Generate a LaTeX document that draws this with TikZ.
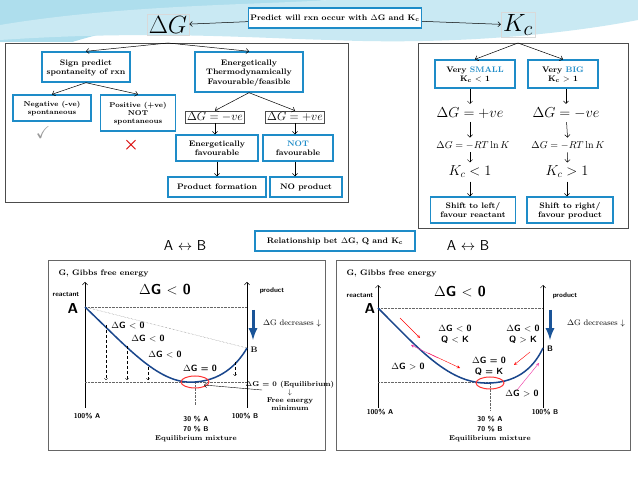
\documentclass[tikz,border=0pt]{standalone}
\usepackage{amsmath}
\usepackage{amssymb}
\usepackage{tikz}
\usetikzlibrary{calc,positioning,arrows,shapes,fit,backgrounds}
\definecolor{boxblue}{RGB}{30,140,200}
\definecolor{curveblue}{RGB}{25,70,140}
\definecolor{wave}{RGB}{120,200,225}
\tikzset{
  bx/.style={draw=boxblue,line width=1.4pt,fill=white,align=center,font=\footnotesize\bfseries,inner sep=2pt,text depth=0pt},
  gx/.style={draw=black!70,line width=0.6pt,fill=white,inner sep=1.5pt,font=\large},
  fr/.style={draw=black!70,line width=0.8pt},
  ar/.style={->,>=angle 90,line width=0.5pt},
  lb/.style={font=\sffamily\small\bfseries},
  ax/.style={font=\sffamily\scriptsize\bfseries},
}
\begin{document}
\begin{tikzpicture}[x=1pt,y=-1pt]
\useasboundingbox (0,0) rectangle (638,478);
\fill[white] (0,0) rectangle (638,478);
% top swoosh
\fill[wave!60] (0,0) -- (330,0) .. controls (200,10) and (80,30) .. (0,70) -- cycle;
\fill[wave!40] (330,0) -- (638,0) -- (638,20) .. controls (560,35) and (450,45) .. (330,40) .. controls (250,38) and (150,30) .. (0,40) -- (0,25) .. controls (120,5) and (250,5) .. (330,0);
\fill[white] (0,42) rectangle (638,478);

% heads
\node[draw=black!15,font=\fontsize{30}{30}\selectfont,inner sep=2pt] (dg) at (168,25) {$\Delta G$};
\node[draw=black!15,font=\fontsize{30}{30}\selectfont,inner sep=2pt] (kc) at (518,25) {$K_c$};
\node[bx,minimum width=160,minimum height=20] (q) at (335,18) {Predict will rxn occur with $\Delta$G and K$_\text{c}$};
\draw[ar] (q) -- (dg);
\draw[ar] (q) -- (kc);

% left frame
\draw[fr] (5,43) rectangle (348,202);
\coordinate (lt) at (168,43);
\node[bx,minimum width=88,minimum height=30] (sign) at (86,67) {Sign predict\\spontaneity of rxn};
\node[bx,minimum width=108,minimum height=40] (ener) at (249,72) {Energetically\\Thermodynamically\\Favourable/feasible};
\draw[ar] (lt) -- (sign.north);
\draw[ar] (lt) -- (ener.north);
\node[bx,font=\scriptsize\bfseries,minimum width=78,minimum height=26] (neg) at (52,108) {Negative (-ve)\\spontaneous};
\node[bx,font=\scriptsize\bfseries,minimum width=75,minimum height=36] (pos) at (138,113) {Positive (+ve)\\NOT\\spontaneous};
\draw[ar] (sign.south) -- (neg.north);
\draw[ar] (sign.south) -- (pos.north);
\node[text=black!40,font=\LARGE] (chk) at (43,133) {$\checkmark$};
\node[text=red!85!black,font=\LARGE\bfseries] (crs) at (131,145) {$\boldsymbol\times$};
\node[gx] (gm) at (215,117) {$\Delta G=-ve$};
\node[gx] (gp) at (295,117) {$\Delta G=+ve$};
\draw[ar] (ener.south) -- (gm.north);
\draw[ar] (ener.south) -- (gp.north);
\node[bx,minimum width=82,minimum height=26] (ef) at (217,148) {Energetically\\favourable};
\node[bx,minimum width=70,minimum height=26] (nf) at (298,148) {\textcolor{boxblue}{NOT}\\favourable};
\draw[ar] (gm) -- (gm |- ef.north);
\draw[ar] (gp) -- (gp |- nf.north);
\node[bx,minimum width=98,minimum height=20] (pf) at (217,187) {Product formation};
\node[bx,minimum width=72,minimum height=20] (np) at (306,187) {NO product};
\draw[ar] (ef) -- (pf);
\draw[ar] (gp |- nf.south) -- (gp |- np.north);

% right frame
\draw[fr] (418,43) rectangle (628,228);
\coordinate (rt) at (518,43);
\node[bx,minimum width=80,minimum height=28] (sm) at (475,74) {Very \textcolor{boxblue}{SMALL}\\K$_\text{c}$ $<$ 1};
\node[bx,minimum width=70,minimum height=28] (bg) at (563,74) {Very \textcolor{boxblue}{BIG}\\K$_\text{c}$ $>$ 1};
\draw[ar] (rt) -- (sm.north);
\draw[ar] (rt) -- (bg.north);
\node[font=\Large] (s1) at (470,113) {$\Delta G=+ve$};
\node[font=\Large] (b1) at (566,113) {$\Delta G=-ve$};
\node (s2) at (473,145) {$\Delta G=-RT\ln K$};
\node (b2) at (568,145) {$\Delta G=-RT\ln K$};
\node[font=\Large] (s3) at (470,172) {$K_c<1$};
\node[font=\Large] (b3) at (567,172) {$K_c>1$};
\node[bx,minimum width=85,minimum height=26] (sl) at (473,210) {Shift to left/\\favour reactant};
\node[bx,minimum width=86,minimum height=26] (sr) at (570,210) {Shift to right/\\favour product};
\draw[ar] (sm.south -| s1) -- (s1);
\draw[ar] (s1) -- (s2.north -| s1);
\draw[ar] (s2.south -| s1) -- (s3);
\draw[ar] (s3) -- (sl.north -| s3);
\draw[ar] (bg.south -| b1) -- (b1);
\draw[ar] (b1) -- (b2);
\draw[ar] (b2) -- (b3);
\draw[ar] (b3) -- (sr.north -| b3);

\node[font=\sffamily\Large] (ab1) at (185,246) {A $\leftrightarrow$ B};
\node[font=\sffamily\Large] (ab2) at (468,246) {A $\leftrightarrow$ B};
\node[bx,minimum width=160,minimum height=20] (rel) at (335,241) {Relationship bet $\Delta$G, Q and K$_\text{c}$};

% ---- bottom left graph
\draw[fr,black!60] (48,260) rectangle (325,450);
\node[font=\footnotesize\bfseries,anchor=west] (gl) at (55,274) {G, Gibbs free energy};
\coordinate (la) at (85,307);
\coordinate (lb) at (247,348);
\coordinate (lm) at (195,382);
\draw[ar] (85,408) -- (85,282);
\draw[ar] (247,408) -- (247,282);
\node[ax] at (66,294) {reactant};
\node[ax] at (272,291) {product};
\node[font=\sffamily\Large\bfseries] at (165,290) {$\Delta$G $<$ 0};
\draw[densely dotted,black!60] (la) -- (247,307);
\draw[densely dotted,black!60] (85,382) -- (247,382);
\draw[densely dotted,black!60] (la) -- (lb);
\draw[densely dotted,black!60] (lm) -- (195,405);
\draw[curveblue,line width=1.5pt] (la) .. controls (130,350) and (160,385) .. (lm) .. controls (225,380) and (240,360) .. (lb);
\foreach \x in {106,127,148}{ \draw[->,densely dashed] (\x,325+\x-106) -- (\x,380); }
\draw[->,densely dashed] (235,362) -- (235,376);
\node[font=\sffamily\Large\bfseries] (A1) at (73,309) {A};
\node[font=\footnotesize\bfseries] (B1) at (254,350) {B};
\node[lb] at (128,326) {$\Delta$G $<$ 0};
\node[lb] at (148,339) {$\Delta$G $<$ 0};
\node[lb] at (165,355) {$\Delta$G $<$ 0};
\node[lb] at (200,368) {$\Delta$G = 0};
\draw[red!80,line width=1pt] (lm) ellipse (14 and 6);
\draw[->,>=latex,line width=3pt,curveblue!80!boxblue] (253,310) -- (253,340);
\node[font=\footnotesize] at (292,323) {$\Delta$G decreases $\downarrow$};
\node[font=\scriptsize\bfseries,align=center] (fe) at (290,396) {$\Delta$G = 0 (Equilibrium)\\$\downarrow$\\Free energy\\minimum};
\draw[->,>=angle 90] (262,390) -- (204,385);
\node[ax] at (87,416) {100\% A};
\node[ax] at (245,416) {100\% B};
\node[ax,align=center] at (196,424) {30 \% A\\[2pt]70 \% B};
\node[font=\scriptsize\bfseries] at (196,439) {Equilibrium mixture};

% ---- bottom right graph
\draw[fr,black!60] (336,260) rectangle (630,450);
\node[font=\footnotesize\bfseries,anchor=west] (gr) at (343,274) {G, Gibbs free energy};
\coordinate (ra) at (378,308);
\coordinate (rb) at (543,348);
\coordinate (rm) at (490,383);
\draw[ar] (378,408) -- (378,285);
\draw[ar] (543,408) -- (543,285);
\node[ax] at (360,295) {reactant};
\node[ax] at (565,296) {product};
\node[font=\sffamily\Large\bfseries] at (460,292) {$\Delta$G $<$ 0};
\draw[densely dotted,black!60] (ra) -- (543,308);
\draw[densely dotted,black!60] (378,382) -- (490,382);
\draw[densely dotted,black!60] (rm) -- (490,410);
\draw[curveblue,line width=1.5pt] (ra) .. controls (420,350) and (450,385) .. (rm) .. controls (520,382) and (535,365) .. (rb);
\node[font=\sffamily\Large\bfseries] (A2) at (370,309) {A};
\node[font=\sffamily\footnotesize\bfseries] (B2) at (550,349) {B};
\draw[red!80,line width=1pt] (rm) ellipse (14 and 6);
\draw[->,>=stealth,red] (400,318) -- (420,338);
\draw[->,>=stealth,red] (428,353) -- (460,368);
\draw[->,>=stealth,magenta!80] (438,358) -- (411,345);
\draw[->,>=stealth,red] (530,352) -- (514,365);
\draw[->,>=stealth,magenta!80] (517,390) -- (539,363);
\node[lb,align=center] at (455,334) {$\Delta$G $<$ 0\\Q $<$ K};
\node[lb,align=center] at (523,334) {$\Delta$G $<$ 0\\Q $>$ K};
\node[lb,align=center] at (489,366) {$\Delta$G = 0\\Q = K};
\node[lb] at (408,367) {$\Delta$G $>$ 0};
\node[lb] at (522,394) {$\Delta$G $>$ 0};
\draw[->,>=latex,line width=3pt,curveblue!80!boxblue] (550,310) -- (550,340);
\node[font=\footnotesize] at (596,323) {$\Delta$G decreases $\downarrow$};
\node[ax] at (380,412) {100\% A};
\node[ax] at (545,412) {100\% B};
\node[ax,align=center] at (490,424) {30 \% A\\[2pt]70 \% B};
\node[font=\scriptsize\bfseries] at (490,439) {Equilibrium mixture};
\end{tikzpicture}
\end{document}
